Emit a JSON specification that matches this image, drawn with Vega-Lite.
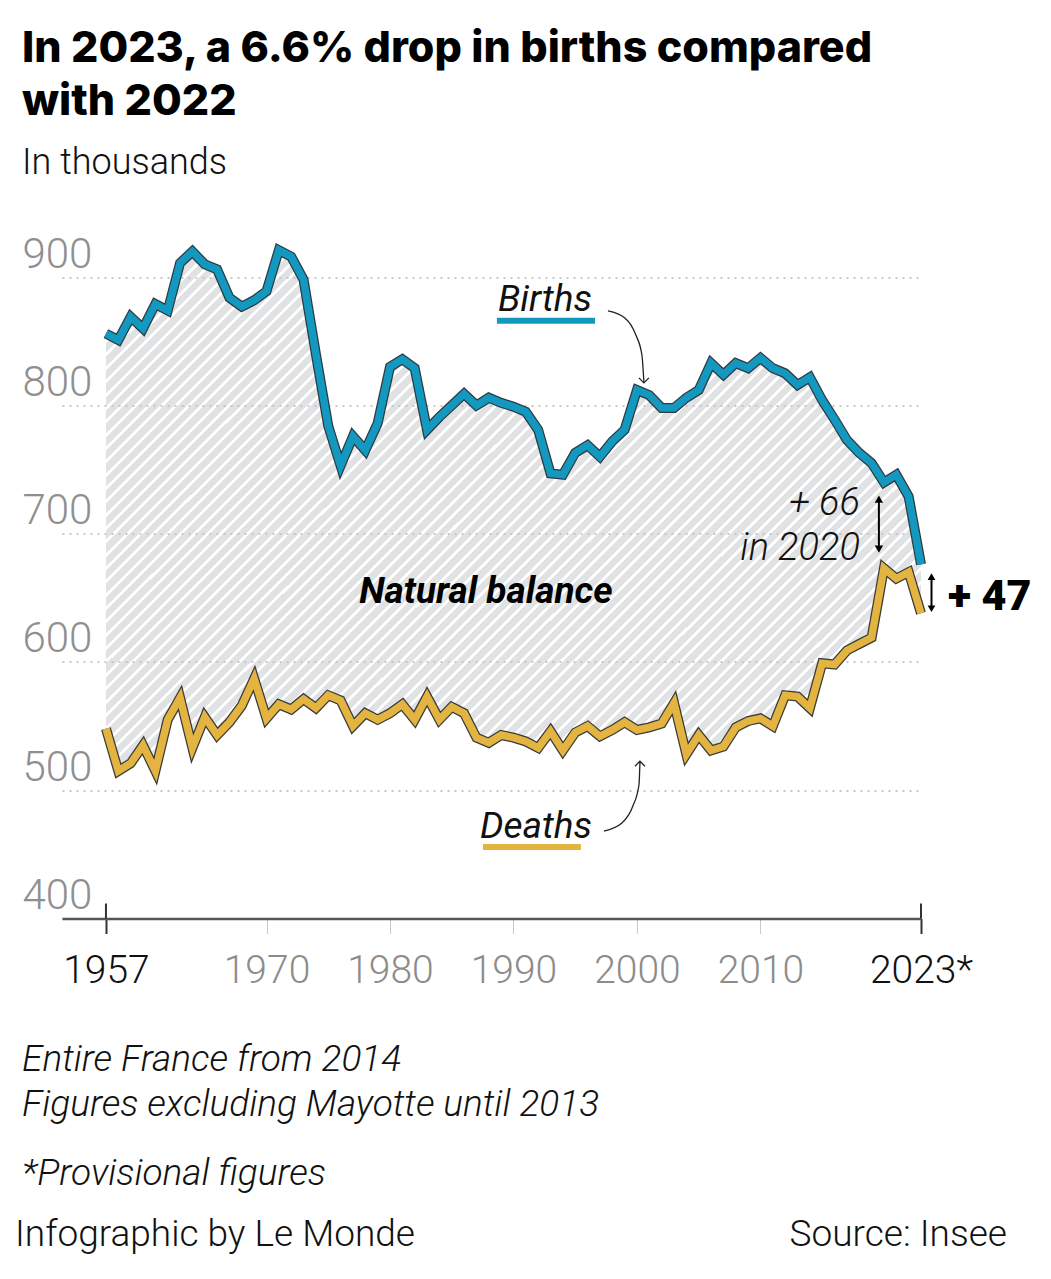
{
"$schema": "https://vega.github.io/schema/vega-lite/v6.json",
"width": 859,
"height": 667,
"autosize": {"type": "none"},
"padding": {"left": 62, "top": 251.5, "right": 130, "bottom": 360.5},
"background": "white",
"config": {"view": {"stroke": null}, "font": "Roboto"},
"title": {
  "text": ["In 2023, a 6.6% drop in births compared", "with 2022"],
  "subtitle": "In thousands",
  "anchor": "start",
  "frame": "group",
  "dx": -40,
  "offset": 49,
  "font": "Inter",
  "fontSize": 43,
  "fontWeight": 800,
  "lineHeight": 53,
  "color": "#000",
  "subtitleFont": "Roboto",
  "subtitleFontSize": 36,
  "subtitleFontWeight": 300,
  "subtitleColor": "#111",
  "subtitlePadding": 22
},
"data": {"values": [
{"year":1957,"births":856,"deaths":548},
{"year":1958,"births":851,"deaths":515},
{"year":1959,"births":869,"deaths":521},
{"year":1960,"births":860,"deaths":535},
{"year":1961,"births":879,"deaths":515},
{"year":1962,"births":874,"deaths":555},
{"year":1963,"births":911,"deaths":572},
{"year":1964,"births":920,"deaths":533},
{"year":1965,"births":910,"deaths":557},
{"year":1966,"births":906,"deaths":543},
{"year":1967,"births":884,"deaths":553},
{"year":1968,"births":877,"deaths":566},
{"year":1969,"births":882,"deaths":587},
{"year":1970,"births":889,"deaths":556},
{"year":1971,"births":921,"deaths":567},
{"year":1972,"births":916,"deaths":563},
{"year":1973,"births":898,"deaths":571},
{"year":1974,"births":840,"deaths":564},
{"year":1975,"births":784,"deaths":574},
{"year":1976,"births":753,"deaths":570},
{"year":1977,"births":776,"deaths":550},
{"year":1978,"births":765,"deaths":560},
{"year":1979,"births":786,"deaths":555},
{"year":1980,"births":830,"deaths":560},
{"year":1981,"births":836,"deaths":567},
{"year":1982,"births":829,"deaths":555},
{"year":1983,"births":781,"deaths":573},
{"year":1984,"births":791,"deaths":555},
{"year":1985,"births":800,"deaths":565},
{"year":1986,"births":809,"deaths":560},
{"year":1987,"births":800,"deaths":541},
{"year":1988,"births":806,"deaths":537},
{"year":1989,"births":802,"deaths":543},
{"year":1990,"births":799,"deaths":541},
{"year":1991,"births":795,"deaths":538},
{"year":1992,"births":781,"deaths":533},
{"year":1993,"births":747,"deaths":546},
{"year":1994,"births":746,"deaths":531},
{"year":1995,"births":763,"deaths":545},
{"year":1996,"births":769,"deaths":550},
{"year":1997,"births":760,"deaths":542},
{"year":1998,"births":772,"deaths":547},
{"year":1999,"births":781,"deaths":553},
{"year":2000,"births":812,"deaths":547},
{"year":2001,"births":808,"deaths":549},
{"year":2002,"births":798,"deaths":552},
{"year":2003,"births":798,"deaths":568},
{"year":2004,"births":806,"deaths":528},
{"year":2005,"births":812,"deaths":543},
{"year":2006,"births":833,"deaths":531},
{"year":2007,"births":824,"deaths":534},
{"year":2008,"births":833,"deaths":549},
{"year":2009,"births":829,"deaths":554},
{"year":2010,"births":837,"deaths":556},
{"year":2011,"births":829,"deaths":550},
{"year":2012,"births":825,"deaths":574},
{"year":2013,"births":816,"deaths":573},
{"year":2014,"births":822,"deaths":564},
{"year":2015,"births":804,"deaths":599},
{"year":2016,"births":789,"deaths":598},
{"year":2017,"births":773,"deaths":609},
{"year":2018,"births":763,"deaths":614},
{"year":2019,"births":755,"deaths":619},
{"year":2020,"births":740,"deaths":673},
{"year":2021,"births":746,"deaths":665},
{"year":2022,"births":729,"deaths":670},
{"year":2023,"births":676,"deaths":638}
]},
"layer": [
{
  "mark": {"type": "area", "opacity": 1, "fill": {"gradient": "linear", "x1": 0, "y1": 0, "x2": 1.1636, "y2": 0.7444, "stops": [
{"offset":0,"color":"#c3c5c980"},{"offset":0.007,"color":"#c3c5c980"},{"offset":0.007,"color":"#fff0"},{"offset":0.01,"color":"#fff0"},
{"offset":0.01,"color":"#c3c5c980"},{"offset":0.017,"color":"#c3c5c980"},{"offset":0.017,"color":"#fff0"},{"offset":0.02,"color":"#fff0"},
{"offset":0.02,"color":"#c3c5c980"},{"offset":0.027,"color":"#c3c5c980"},{"offset":0.027,"color":"#fff0"},{"offset":0.03,"color":"#fff0"},
{"offset":0.03,"color":"#c3c5c980"},{"offset":0.037,"color":"#c3c5c980"},{"offset":0.037,"color":"#fff0"},{"offset":0.04,"color":"#fff0"},
{"offset":0.04,"color":"#c3c5c980"},{"offset":0.047,"color":"#c3c5c980"},{"offset":0.047,"color":"#fff0"},{"offset":0.05,"color":"#fff0"},
{"offset":0.05,"color":"#c3c5c980"},{"offset":0.057,"color":"#c3c5c980"},{"offset":0.057,"color":"#fff0"},{"offset":0.06,"color":"#fff0"},
{"offset":0.06,"color":"#c3c5c980"},{"offset":0.067,"color":"#c3c5c980"},{"offset":0.067,"color":"#fff0"},{"offset":0.07,"color":"#fff0"},
{"offset":0.07,"color":"#c3c5c980"},{"offset":0.077,"color":"#c3c5c980"},{"offset":0.077,"color":"#fff0"},{"offset":0.08,"color":"#fff0"},
{"offset":0.08,"color":"#c3c5c980"},{"offset":0.087,"color":"#c3c5c980"},{"offset":0.087,"color":"#fff0"},{"offset":0.09,"color":"#fff0"},
{"offset":0.09,"color":"#c3c5c980"},{"offset":0.097,"color":"#c3c5c980"},{"offset":0.097,"color":"#fff0"},{"offset":0.1,"color":"#fff0"},
{"offset":0.1,"color":"#c3c5c980"},{"offset":0.107,"color":"#c3c5c980"},{"offset":0.107,"color":"#fff0"},{"offset":0.11,"color":"#fff0"},
{"offset":0.11,"color":"#c3c5c980"},{"offset":0.117,"color":"#c3c5c980"},{"offset":0.117,"color":"#fff0"},{"offset":0.12,"color":"#fff0"},
{"offset":0.12,"color":"#c3c5c980"},{"offset":0.127,"color":"#c3c5c980"},{"offset":0.127,"color":"#fff0"},{"offset":0.13,"color":"#fff0"},
{"offset":0.13,"color":"#c3c5c980"},{"offset":0.137,"color":"#c3c5c980"},{"offset":0.137,"color":"#fff0"},{"offset":0.14,"color":"#fff0"},
{"offset":0.14,"color":"#c3c5c980"},{"offset":0.147,"color":"#c3c5c980"},{"offset":0.147,"color":"#fff0"},{"offset":0.15,"color":"#fff0"},
{"offset":0.15,"color":"#c3c5c980"},{"offset":0.157,"color":"#c3c5c980"},{"offset":0.157,"color":"#fff0"},{"offset":0.16,"color":"#fff0"},
{"offset":0.16,"color":"#c3c5c980"},{"offset":0.167,"color":"#c3c5c980"},{"offset":0.167,"color":"#fff0"},{"offset":0.17,"color":"#fff0"},
{"offset":0.17,"color":"#c3c5c980"},{"offset":0.177,"color":"#c3c5c980"},{"offset":0.177,"color":"#fff0"},{"offset":0.18,"color":"#fff0"},
{"offset":0.18,"color":"#c3c5c980"},{"offset":0.187,"color":"#c3c5c980"},{"offset":0.187,"color":"#fff0"},{"offset":0.19,"color":"#fff0"},
{"offset":0.19,"color":"#c3c5c980"},{"offset":0.197,"color":"#c3c5c980"},{"offset":0.197,"color":"#fff0"},{"offset":0.2,"color":"#fff0"},
{"offset":0.2,"color":"#c3c5c980"},{"offset":0.207,"color":"#c3c5c980"},{"offset":0.207,"color":"#fff0"},{"offset":0.21,"color":"#fff0"},
{"offset":0.21,"color":"#c3c5c980"},{"offset":0.217,"color":"#c3c5c980"},{"offset":0.217,"color":"#fff0"},{"offset":0.22,"color":"#fff0"},
{"offset":0.22,"color":"#c3c5c980"},{"offset":0.227,"color":"#c3c5c980"},{"offset":0.227,"color":"#fff0"},{"offset":0.23,"color":"#fff0"},
{"offset":0.23,"color":"#c3c5c980"},{"offset":0.237,"color":"#c3c5c980"},{"offset":0.237,"color":"#fff0"},{"offset":0.24,"color":"#fff0"},
{"offset":0.24,"color":"#c3c5c980"},{"offset":0.247,"color":"#c3c5c980"},{"offset":0.247,"color":"#fff0"},{"offset":0.25,"color":"#fff0"},
{"offset":0.25,"color":"#c3c5c980"},{"offset":0.257,"color":"#c3c5c980"},{"offset":0.257,"color":"#fff0"},{"offset":0.26,"color":"#fff0"},
{"offset":0.26,"color":"#c3c5c980"},{"offset":0.267,"color":"#c3c5c980"},{"offset":0.267,"color":"#fff0"},{"offset":0.27,"color":"#fff0"},
{"offset":0.27,"color":"#c3c5c980"},{"offset":0.277,"color":"#c3c5c980"},{"offset":0.277,"color":"#fff0"},{"offset":0.28,"color":"#fff0"},
{"offset":0.28,"color":"#c3c5c980"},{"offset":0.287,"color":"#c3c5c980"},{"offset":0.287,"color":"#fff0"},{"offset":0.29,"color":"#fff0"},
{"offset":0.29,"color":"#c3c5c980"},{"offset":0.297,"color":"#c3c5c980"},{"offset":0.297,"color":"#fff0"},{"offset":0.3,"color":"#fff0"},
{"offset":0.3,"color":"#c3c5c980"},{"offset":0.307,"color":"#c3c5c980"},{"offset":0.307,"color":"#fff0"},{"offset":0.31,"color":"#fff0"},
{"offset":0.31,"color":"#c3c5c980"},{"offset":0.317,"color":"#c3c5c980"},{"offset":0.317,"color":"#fff0"},{"offset":0.32,"color":"#fff0"},
{"offset":0.32,"color":"#c3c5c980"},{"offset":0.327,"color":"#c3c5c980"},{"offset":0.327,"color":"#fff0"},{"offset":0.33,"color":"#fff0"},
{"offset":0.33,"color":"#c3c5c980"},{"offset":0.337,"color":"#c3c5c980"},{"offset":0.337,"color":"#fff0"},{"offset":0.34,"color":"#fff0"},
{"offset":0.34,"color":"#c3c5c980"},{"offset":0.347,"color":"#c3c5c980"},{"offset":0.347,"color":"#fff0"},{"offset":0.35,"color":"#fff0"},
{"offset":0.35,"color":"#c3c5c980"},{"offset":0.357,"color":"#c3c5c980"},{"offset":0.357,"color":"#fff0"},{"offset":0.36,"color":"#fff0"},
{"offset":0.36,"color":"#c3c5c980"},{"offset":0.367,"color":"#c3c5c980"},{"offset":0.367,"color":"#fff0"},{"offset":0.37,"color":"#fff0"},
{"offset":0.37,"color":"#c3c5c980"},{"offset":0.377,"color":"#c3c5c980"},{"offset":0.377,"color":"#fff0"},{"offset":0.38,"color":"#fff0"},
{"offset":0.38,"color":"#c3c5c980"},{"offset":0.387,"color":"#c3c5c980"},{"offset":0.387,"color":"#fff0"},{"offset":0.39,"color":"#fff0"},
{"offset":0.39,"color":"#c3c5c980"},{"offset":0.397,"color":"#c3c5c980"},{"offset":0.397,"color":"#fff0"},{"offset":0.4,"color":"#fff0"},
{"offset":0.4,"color":"#c3c5c980"},{"offset":0.407,"color":"#c3c5c980"},{"offset":0.407,"color":"#fff0"},{"offset":0.41,"color":"#fff0"},
{"offset":0.41,"color":"#c3c5c980"},{"offset":0.417,"color":"#c3c5c980"},{"offset":0.417,"color":"#fff0"},{"offset":0.42,"color":"#fff0"},
{"offset":0.42,"color":"#c3c5c980"},{"offset":0.427,"color":"#c3c5c980"},{"offset":0.427,"color":"#fff0"},{"offset":0.43,"color":"#fff0"},
{"offset":0.43,"color":"#c3c5c980"},{"offset":0.437,"color":"#c3c5c980"},{"offset":0.437,"color":"#fff0"},{"offset":0.44,"color":"#fff0"},
{"offset":0.44,"color":"#c3c5c980"},{"offset":0.447,"color":"#c3c5c980"},{"offset":0.447,"color":"#fff0"},{"offset":0.45,"color":"#fff0"},
{"offset":0.45,"color":"#c3c5c980"},{"offset":0.457,"color":"#c3c5c980"},{"offset":0.457,"color":"#fff0"},{"offset":0.46,"color":"#fff0"},
{"offset":0.46,"color":"#c3c5c980"},{"offset":0.467,"color":"#c3c5c980"},{"offset":0.467,"color":"#fff0"},{"offset":0.47,"color":"#fff0"},
{"offset":0.47,"color":"#c3c5c980"},{"offset":0.477,"color":"#c3c5c980"},{"offset":0.477,"color":"#fff0"},{"offset":0.48,"color":"#fff0"},
{"offset":0.48,"color":"#c3c5c980"},{"offset":0.487,"color":"#c3c5c980"},{"offset":0.487,"color":"#fff0"},{"offset":0.49,"color":"#fff0"},
{"offset":0.49,"color":"#c3c5c980"},{"offset":0.497,"color":"#c3c5c980"},{"offset":0.497,"color":"#fff0"},{"offset":0.5,"color":"#fff0"},
{"offset":0.5,"color":"#c3c5c980"},{"offset":0.507,"color":"#c3c5c980"},{"offset":0.507,"color":"#fff0"},{"offset":0.51,"color":"#fff0"},
{"offset":0.51,"color":"#c3c5c980"},{"offset":0.517,"color":"#c3c5c980"},{"offset":0.517,"color":"#fff0"},{"offset":0.52,"color":"#fff0"},
{"offset":0.52,"color":"#c3c5c980"},{"offset":0.527,"color":"#c3c5c980"},{"offset":0.527,"color":"#fff0"},{"offset":0.53,"color":"#fff0"},
{"offset":0.53,"color":"#c3c5c980"},{"offset":0.537,"color":"#c3c5c980"},{"offset":0.537,"color":"#fff0"},{"offset":0.54,"color":"#fff0"},
{"offset":0.54,"color":"#c3c5c980"},{"offset":0.547,"color":"#c3c5c980"},{"offset":0.547,"color":"#fff0"},{"offset":0.55,"color":"#fff0"},
{"offset":0.55,"color":"#c3c5c980"},{"offset":0.557,"color":"#c3c5c980"},{"offset":0.557,"color":"#fff0"},{"offset":0.56,"color":"#fff0"},
{"offset":0.56,"color":"#c3c5c980"},{"offset":0.567,"color":"#c3c5c980"},{"offset":0.567,"color":"#fff0"},{"offset":0.57,"color":"#fff0"},
{"offset":0.57,"color":"#c3c5c980"},{"offset":0.577,"color":"#c3c5c980"},{"offset":0.577,"color":"#fff0"},{"offset":0.58,"color":"#fff0"},
{"offset":0.58,"color":"#c3c5c980"},{"offset":0.587,"color":"#c3c5c980"},{"offset":0.587,"color":"#fff0"},{"offset":0.59,"color":"#fff0"},
{"offset":0.59,"color":"#c3c5c980"},{"offset":0.597,"color":"#c3c5c980"},{"offset":0.597,"color":"#fff0"},{"offset":0.6,"color":"#fff0"},
{"offset":0.6,"color":"#c3c5c980"},{"offset":0.607,"color":"#c3c5c980"},{"offset":0.607,"color":"#fff0"},{"offset":0.61,"color":"#fff0"},
{"offset":0.61,"color":"#c3c5c980"},{"offset":0.617,"color":"#c3c5c980"},{"offset":0.617,"color":"#fff0"},{"offset":0.62,"color":"#fff0"},
{"offset":0.62,"color":"#c3c5c980"},{"offset":0.627,"color":"#c3c5c980"},{"offset":0.627,"color":"#fff0"},{"offset":0.63,"color":"#fff0"},
{"offset":0.63,"color":"#c3c5c980"},{"offset":0.637,"color":"#c3c5c980"},{"offset":0.637,"color":"#fff0"},{"offset":0.64,"color":"#fff0"},
{"offset":0.64,"color":"#c3c5c980"},{"offset":0.647,"color":"#c3c5c980"},{"offset":0.647,"color":"#fff0"},{"offset":0.65,"color":"#fff0"},
{"offset":0.65,"color":"#c3c5c980"},{"offset":0.657,"color":"#c3c5c980"},{"offset":0.657,"color":"#fff0"},{"offset":0.66,"color":"#fff0"},
{"offset":0.66,"color":"#c3c5c980"},{"offset":0.667,"color":"#c3c5c980"},{"offset":0.667,"color":"#fff0"},{"offset":0.67,"color":"#fff0"},
{"offset":0.67,"color":"#c3c5c980"},{"offset":0.677,"color":"#c3c5c980"},{"offset":0.677,"color":"#fff0"},{"offset":0.68,"color":"#fff0"},
{"offset":0.68,"color":"#c3c5c980"},{"offset":0.687,"color":"#c3c5c980"},{"offset":0.687,"color":"#fff0"},{"offset":0.69,"color":"#fff0"},
{"offset":0.69,"color":"#c3c5c980"},{"offset":0.697,"color":"#c3c5c980"},{"offset":0.697,"color":"#fff0"},{"offset":0.7,"color":"#fff0"},
{"offset":0.7,"color":"#c3c5c980"},{"offset":0.707,"color":"#c3c5c980"},{"offset":0.707,"color":"#fff0"},{"offset":0.71,"color":"#fff0"},
{"offset":0.71,"color":"#c3c5c980"},{"offset":0.717,"color":"#c3c5c980"},{"offset":0.717,"color":"#fff0"},{"offset":0.72,"color":"#fff0"},
{"offset":0.72,"color":"#c3c5c980"},{"offset":0.727,"color":"#c3c5c980"},{"offset":0.727,"color":"#fff0"},{"offset":0.73,"color":"#fff0"},
{"offset":0.73,"color":"#c3c5c980"},{"offset":0.737,"color":"#c3c5c980"},{"offset":0.737,"color":"#fff0"},{"offset":0.74,"color":"#fff0"},
{"offset":0.74,"color":"#c3c5c980"},{"offset":0.747,"color":"#c3c5c980"},{"offset":0.747,"color":"#fff0"},{"offset":0.75,"color":"#fff0"},
{"offset":0.75,"color":"#c3c5c980"},{"offset":0.757,"color":"#c3c5c980"},{"offset":0.757,"color":"#fff0"},{"offset":0.76,"color":"#fff0"},
{"offset":0.76,"color":"#c3c5c980"},{"offset":0.767,"color":"#c3c5c980"},{"offset":0.767,"color":"#fff0"},{"offset":0.77,"color":"#fff0"},
{"offset":0.77,"color":"#c3c5c980"},{"offset":0.777,"color":"#c3c5c980"},{"offset":0.777,"color":"#fff0"},{"offset":0.78,"color":"#fff0"},
{"offset":0.78,"color":"#c3c5c980"},{"offset":0.787,"color":"#c3c5c980"},{"offset":0.787,"color":"#fff0"},{"offset":0.79,"color":"#fff0"},
{"offset":0.79,"color":"#c3c5c980"},{"offset":0.797,"color":"#c3c5c980"},{"offset":0.797,"color":"#fff0"},{"offset":0.8,"color":"#fff0"},
{"offset":0.8,"color":"#c3c5c980"},{"offset":0.807,"color":"#c3c5c980"},{"offset":0.807,"color":"#fff0"},{"offset":0.81,"color":"#fff0"},
{"offset":0.81,"color":"#c3c5c980"},{"offset":0.817,"color":"#c3c5c980"},{"offset":0.817,"color":"#fff0"},{"offset":0.82,"color":"#fff0"},
{"offset":0.82,"color":"#c3c5c980"},{"offset":0.827,"color":"#c3c5c980"},{"offset":0.827,"color":"#fff0"},{"offset":0.83,"color":"#fff0"},
{"offset":0.83,"color":"#c3c5c980"},{"offset":0.837,"color":"#c3c5c980"},{"offset":0.837,"color":"#fff0"},{"offset":0.84,"color":"#fff0"},
{"offset":0.84,"color":"#c3c5c980"},{"offset":0.847,"color":"#c3c5c980"},{"offset":0.847,"color":"#fff0"},{"offset":0.85,"color":"#fff0"},
{"offset":0.85,"color":"#c3c5c980"},{"offset":0.857,"color":"#c3c5c980"},{"offset":0.857,"color":"#fff0"},{"offset":0.86,"color":"#fff0"},
{"offset":0.86,"color":"#c3c5c980"},{"offset":0.867,"color":"#c3c5c980"},{"offset":0.867,"color":"#fff0"},{"offset":0.87,"color":"#fff0"},
{"offset":0.87,"color":"#c3c5c980"},{"offset":0.877,"color":"#c3c5c980"},{"offset":0.877,"color":"#fff0"},{"offset":0.88,"color":"#fff0"},
{"offset":0.88,"color":"#c3c5c980"},{"offset":0.887,"color":"#c3c5c980"},{"offset":0.887,"color":"#fff0"},{"offset":0.89,"color":"#fff0"},
{"offset":0.89,"color":"#c3c5c980"},{"offset":0.897,"color":"#c3c5c980"},{"offset":0.897,"color":"#fff0"},{"offset":0.9,"color":"#fff0"},
{"offset":0.9,"color":"#c3c5c980"},{"offset":0.907,"color":"#c3c5c980"},{"offset":0.907,"color":"#fff0"},{"offset":0.91,"color":"#fff0"},
{"offset":0.91,"color":"#c3c5c980"},{"offset":0.917,"color":"#c3c5c980"},{"offset":0.917,"color":"#fff0"},{"offset":0.92,"color":"#fff0"},
{"offset":0.92,"color":"#c3c5c980"},{"offset":0.927,"color":"#c3c5c980"},{"offset":0.927,"color":"#fff0"},{"offset":0.93,"color":"#fff0"},
{"offset":0.93,"color":"#c3c5c980"},{"offset":0.937,"color":"#c3c5c980"},{"offset":0.937,"color":"#fff0"},{"offset":0.94,"color":"#fff0"},
{"offset":0.94,"color":"#c3c5c980"},{"offset":0.947,"color":"#c3c5c980"},{"offset":0.947,"color":"#fff0"},{"offset":0.95,"color":"#fff0"},
{"offset":0.95,"color":"#c3c5c980"},{"offset":0.957,"color":"#c3c5c980"},{"offset":0.957,"color":"#fff0"},{"offset":0.96,"color":"#fff0"},
{"offset":0.96,"color":"#c3c5c980"},{"offset":0.967,"color":"#c3c5c980"},{"offset":0.967,"color":"#fff0"},{"offset":0.97,"color":"#fff0"},
{"offset":0.97,"color":"#c3c5c980"},{"offset":0.977,"color":"#c3c5c980"},{"offset":0.977,"color":"#fff0"},{"offset":0.98,"color":"#fff0"},
{"offset":0.98,"color":"#c3c5c980"},{"offset":0.987,"color":"#c3c5c980"},{"offset":0.987,"color":"#fff0"},{"offset":0.99,"color":"#fff0"},
{"offset":0.99,"color":"#c3c5c980"},{"offset":0.997,"color":"#c3c5c980"},{"offset":0.997,"color":"#fff0"},{"offset":1,"color":"#fff0"}
  ]}},
  "encoding": {
    "x": {"field": "year", "type": "quantitative",
      "scale": {"domain": [1953.44, 2023], "nice": false, "zero": false},
      "axis": {"values": [1957, 1970, 1980, 1990, 2000, 2010, 2023], "format": "d",
        "labelExpr": "datum.value == 2023 ? '2023*' : datum.label",
        "title": null, "grid": false, "domainColor": "#555", "domainWidth": 2.5,
        "tickSize": 15,
        "tickColor": {"condition": {"test": "datum.value == 1957 || datum.value == 2023", "value": "#333"}, "value": "#c8c8c8"},
        "tickWidth": {"condition": {"test": "datum.value == 1957 || datum.value == 2023", "value": 2}, "value": 1},
        "labelColor": {"condition": {"test": "datum.value == 1957 || datum.value == 2023", "value": "#111"}, "value": "#8c8c8c"},
        "labelFont": "Roboto", "labelFontSize": 39, "labelFontWeight": 300,
        "labelPadding": 18, "labelFlush": false, "labelOverlap": false, "labelBaseline": "top"}},
    "y": {"field": "births", "type": "quantitative",
      "scale": {"domain": [400, 920], "nice": false, "zero": false},
      "axis": {"values": [400, 500, 600, 700, 800, 900], "title": null, "domain": false, "ticks": false,
        "grid": true, "gridDash": [2, 5], "gridColor": "#b5b5b5", "gridWidth": 1.5,
        "labelAlign": "left", "labelBaseline": "alphabetic", "labelPadding": 40, "labelOffset": -10,
        "labelFont": "Roboto", "labelFontSize": 42, "labelFontWeight": 300, "labelColor": "#8f8f8f",
        "labelFlush": false, "labelOverlap": false}},
    "y2": {"field": "deaths"}
  }
},
{
  "mark": {"type": "line", "stroke": "#3a3a3a", "strokeWidth": 10, "strokeCap": "butt"},
  "encoding": {"x": {"field": "year", "type": "quantitative"}, "y": {"field": "deaths", "type": "quantitative"}}
},
{
  "mark": {"type": "line", "stroke": "#e3b540", "strokeWidth": 7.5, "strokeCap": "butt"},
  "encoding": {"x": {"field": "year", "type": "quantitative"}, "y": {"field": "deaths", "type": "quantitative"}}
},
{
  "mark": {"type": "line", "stroke": "#2f3a40", "strokeWidth": 10, "strokeCap": "butt"},
  "encoding": {"x": {"field": "year", "type": "quantitative"}, "y": {"field": "births", "type": "quantitative"}}
},
{
  "mark": {"type": "line", "stroke": "#1398c0", "strokeWidth": 7.5, "strokeCap": "butt"},
  "encoding": {"x": {"field": "year", "type": "quantitative"}, "y": {"field": "births", "type": "quantitative"}}
},
{
  "data": {"values": [{"year": 1957}, {"year": 2023}]},
  "mark": {"type": "rule", "color": "#333", "strokeWidth": 2},
  "encoding": {"x": {"field": "year", "type": "quantitative"}, "y": {"datum": 400}, "y2": {"datum": 411.7}}
},
{
  "data": {"values": [{}]},
  "mark": {"type": "rule", "color": "#1398c0", "strokeWidth": 6},
  "encoding": {"x": {"datum": 1988.66}, "x2": {"datum": 1996.6}, "y": {"datum": 866}}
},
{
  "data": {"values": [{}]},
  "mark": {"type": "text", "text": "Births", "font": "Roboto", "fontSize": 37, "fontStyle": "italic", "fontWeight": 400, "align": "left", "baseline": "alphabetic", "color": "#111"},
  "encoding": {"x": {"datum": 1988.74}, "y": {"datum": 873.7}}
},
{
  "data": {"values": [{}]},
  "mark": {"type": "rule", "color": "#e3b540", "strokeWidth": 6},
  "encoding": {"x": {"datum": 1987.53}, "x2": {"datum": 1995.46}, "y": {"datum": 455.8}}
},
{
  "data": {"values": [{}]},
  "mark": {"type": "text", "text": "Deaths", "font": "Roboto", "fontSize": 37, "fontStyle": "italic", "fontWeight": 400, "align": "left", "baseline": "alphabetic", "color": "#111"},
  "encoding": {"x": {"datum": 1987.28}, "y": {"datum": 462.8}}
},
{
  "data": {"values": [
    {"year": 1997.65, "value": 873.7}, {"year": 1999.02, "value": 868.2}, {"year": 1999.91, "value": 854.9},
    {"year": 2000.4, "value": 839.3}, {"year": 2000.56, "value": 818.3}]},
  "mark": {"type": "line", "interpolate": "monotone", "color": "#222", "strokeWidth": 1.3},
  "encoding": {"x": {"field": "year", "type": "quantitative"}, "y": {"field": "value", "type": "quantitative"}}
},
{
  "data": {"values": [{}]},
  "mark": {"type": "point", "shape": "M-1,-1L0,0L1,-1", "filled": false, "color": "#222", "strokeWidth": 1.3, "size": 100, "opacity": 1},
  "encoding": {"x": {"datum": 2000.56}, "y": {"datum": 817.6}}
},
{
  "data": {"values": [
    {"year": 1997.32, "value": 468.2}, {"year": 1998.78, "value": 474.5}, {"year": 1999.67, "value": 487.7},
    {"year": 2000.16, "value": 504.1}, {"year": 2000.24, "value": 521.4}]},
  "mark": {"type": "line", "interpolate": "monotone", "color": "#222", "strokeWidth": 1.3},
  "encoding": {"x": {"field": "year", "type": "quantitative"}, "y": {"field": "value", "type": "quantitative"}}
},
{
  "data": {"values": [{}]},
  "mark": {"type": "point", "shape": "M-1,1L0,0L1,1", "filled": false, "color": "#222", "strokeWidth": 1.3, "size": 100, "opacity": 1},
  "encoding": {"x": {"datum": 2000.24}, "y": {"datum": 522.6}}
},
{
  "data": {"values": [{}]},
  "mark": {"type": "text", "text": "Natural balance", "font": "Roboto", "fontSize": 37, "fontStyle": "italic", "fontWeight": 700, "align": "center", "baseline": "alphabetic", "color": "#000"},
  "encoding": {"x": {"datum": 1987.77}, "y": {"datum": 646}}
},
{
  "data": {"values": [{}]},
  "mark": {"type": "text", "text": "+ 66", "font": "Roboto", "fontSize": 38, "fontStyle": "italic", "fontWeight": 300, "align": "right", "baseline": "alphabetic", "color": "#111"},
  "encoding": {"x": {"datum": 2018.05}, "y": {"datum": 714.6}}
},
{
  "data": {"values": [{}]},
  "mark": {"type": "text", "text": "in 2020", "font": "Roboto", "fontSize": 38, "fontStyle": "italic", "fontWeight": 300, "align": "right", "baseline": "alphabetic", "color": "#111"},
  "encoding": {"x": {"datum": 2018.05}, "y": {"datum": 679.5}}
},
{
  "data": {"values": [{}]},
  "mark": {"type": "rule", "color": "#000", "strokeWidth": 2},
  "encoding": {"x": {"datum": 2019.59}, "y": {"datum": 726}, "y2": {"datum": 689}}
},
{
  "data": {"values": [{}]},
  "mark": {"type": "point", "shape": "triangle-up", "filled": true, "color": "#000", "size": 70, "opacity": 1},
  "encoding": {"x": {"datum": 2019.59}, "y": {"datum": 727}}
},
{
  "data": {"values": [{}]},
  "mark": {"type": "point", "shape": "triangle-down", "filled": true, "color": "#000", "size": 70, "opacity": 1},
  "encoding": {"x": {"datum": 2019.59}, "y": {"datum": 688}}
},
{
  "data": {"values": [{}]},
  "mark": {"type": "rule", "color": "#000", "strokeWidth": 2},
  "encoding": {"x": {"datum": 2023.85}, "y": {"datum": 666}, "y2": {"datum": 642}}
},
{
  "data": {"values": [{}]},
  "mark": {"type": "point", "shape": "triangle-up", "filled": true, "color": "#000", "size": 60, "opacity": 1},
  "encoding": {"x": {"datum": 2023.85}, "y": {"datum": 666.5}}
},
{
  "data": {"values": [{}]},
  "mark": {"type": "point", "shape": "triangle-down", "filled": true, "color": "#000", "size": 60, "opacity": 1},
  "encoding": {"x": {"datum": 2023.85}, "y": {"datum": 641.5}}
},
{
  "data": {"values": [{}]},
  "mark": {"type": "text", "text": "+ 47", "font": "Roboto", "fontSize": 43, "fontWeight": 900, "align": "left", "baseline": "alphabetic", "color": "#000"},
  "encoding": {"x": {"datum": 2025.18}, "y": {"datum": 640.6}}
},
{
  "data": {"values": [{}]},
  "mark": {"type": "text", "text": "Entire France from 2014", "font": "Roboto", "fontSize": 37, "fontStyle": "italic", "fontWeight": 300, "align": "left", "baseline": "alphabetic", "color": "#111"},
  "encoding": {"x": {"datum": 1950.2}, "y": {"datum": 281.1}}
},
{
  "data": {"values": [{}]},
  "mark": {"type": "text", "text": "Figures excluding Mayotte until 2013", "font": "Roboto", "fontSize": 37, "fontStyle": "italic", "fontWeight": 300, "align": "left", "baseline": "alphabetic", "color": "#111"},
  "encoding": {"x": {"datum": 1950.2}, "y": {"datum": 246}}
},
{
  "data": {"values": [{}]},
  "mark": {"type": "text", "text": "*Provisional figures", "font": "Roboto", "fontSize": 37, "fontStyle": "italic", "fontWeight": 300, "align": "left", "baseline": "alphabetic", "color": "#111"},
  "encoding": {"x": {"datum": 1950.2}, "y": {"datum": 192.2}}
},
{
  "data": {"values": [{}]},
  "mark": {"type": "text", "text": "Infographic by Le Monde", "font": "Roboto", "fontSize": 37, "fontWeight": 300, "align": "left", "baseline": "alphabetic", "color": "#111"},
  "encoding": {"x": {"datum": 1949.63}, "y": {"datum": 144.6}}
},
{
  "data": {"values": [{}]},
  "mark": {"type": "text", "text": "Source: Insee", "font": "Roboto", "fontSize": 37, "fontWeight": 300, "align": "right", "baseline": "alphabetic", "color": "#111"},
  "encoding": {"x": {"datum": 2029.96}, "y": {"datum": 144.6}}
}
]
}
